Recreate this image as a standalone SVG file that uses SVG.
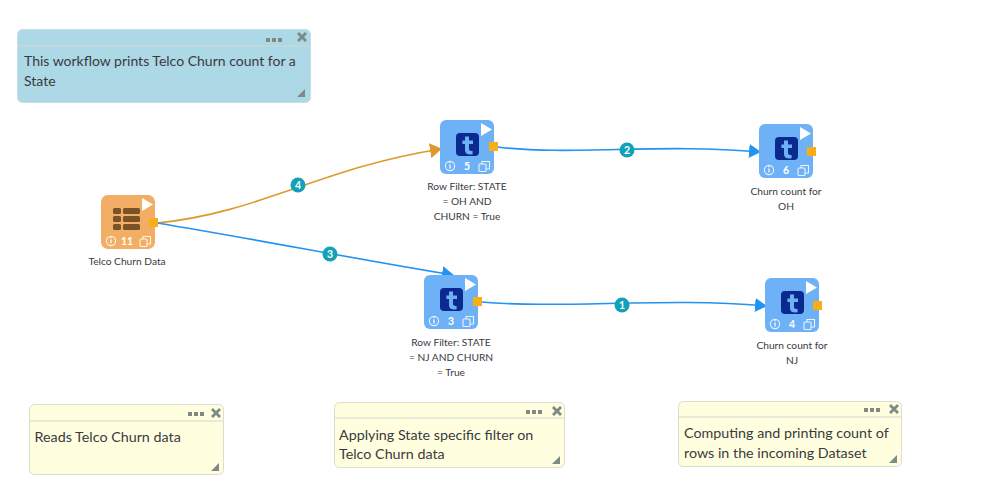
<svg xmlns="http://www.w3.org/2000/svg" width="1000" height="500" viewBox="0 0 1000 500">
<style>
text{font-family:"Lato","Liberation Sans",sans-serif;fill:#3a3a40}
.lbl{font-size:10.2px;text-anchor:middle}
.note{font-size:14.3px}
.top{font-size:14px}
.num{font-size:10.5px;font-weight:700;fill:#fff;text-anchor:middle}
.bnum{font-size:10.5px;font-weight:700;fill:#fff;text-anchor:middle}
.blue{fill:none;stroke:#2193f3;stroke-width:1.6}
.org{fill:none;stroke:#dd9a2a;stroke-width:1.6}
.badge{fill:#12a2b8}
.ic{fill:none;stroke:#fff;stroke-width:1.1;opacity:.85}
.tool{fill:#6fb1f7}
.src{fill:#f1ae64}
.port{fill:#f8ae17}
.blueNote{fill:#add8e6;stroke:#c3dfe8}
.yel{fill:#ffffe0;stroke:#dcdcd0}
.div{stroke-width:1;stroke:#cfd8d0}
.g{fill:#7f8a86}
</style>
<defs>
<marker id="ab" markerUnits="userSpaceOnUse" markerWidth="12" markerHeight="14" refX="11" refY="7" orient="auto"><path d="M0 0L12 7L0 14Z" fill="#2193f3"/></marker>
<marker id="ao" markerUnits="userSpaceOnUse" markerWidth="12" markerHeight="15" refX="11" refY="7.500" orient="auto"><path d="M0 0L12 7.500L0 15Z" fill="#dd9a2a"/></marker>
<g id="chrome">
<path d="M41 3L41 16L52 9.500Z" fill="#fff"/>
<circle cx="10" cy="46" r="4.6" class="ic"/><path d="M10 44.500v4" stroke="#fff" stroke-width="1.2"/><circle cx="10" cy="42.800" r=".7" fill="#fff"/>
<rect x="39" y="44" width="7" height="7.500" rx="1" class="ic"/><path d="M42 44v-2.500h7.500v7.500h-3.500" class="ic"/>
</g>
<g id="tlogo">
<rect x="16" y="13" width="23" height="23" rx="4" fill="#0a2a8f"/>
<path d="M25 16.500h4v4h4v3.600h-4v5.200q0 2 3.600 1.600v3.400q-7.600 1-7.600-4.400v-5.800h-2.600v-3.600h2.600Z" fill="#6fb1f7"/>
</g>
<g id="dots"><rect x="0" y="0" width="4" height="4"/><rect x="6" y="0" width="4" height="4"/><rect x="12" y="0" width="4" height="4"/></g>
<path id="x" d="M0 2L2 0L5 3L8 0L10 2L7 5L10 8L8 10L5 7L2 10L0 8L3 5Z"/>
<path id="grip" d="M8 0V8H0Z"/>
</defs>

<g id="connectors">
<path class="org" marker-end="url(#ao)" d="M157 223C260 213 320 168 441 149"/>
<path class="blue" marker-end="url(#ab)" d="M157 223C260 240 350 258 453 275"/>
<path class="blue" marker-end="url(#ab)" d="M497 147C570 156 660 143 760 152"/>
<path class="blue" marker-end="url(#ab)" d="M481 302C560 309 670 297 766 306"/>
<circle class="badge" cx="298" cy="185" r="7.500"/><text class="num" x="298" y="189">4</text>
<circle class="badge" cx="330" cy="254" r="7.500"/><text class="num" x="330" y="258">3</text>
<circle class="badge" cx="627" cy="150" r="7.500"/><text class="num" x="627" y="154">2</text>
<circle class="badge" cx="622" cy="305" r="7.500"/><text class="num" x="622" y="309">1</text>
</g>

<g id="node-11" transform="translate(101,195)">
<rect class="src" width="54" height="54" rx="7"/>
<use href="#chrome"/>
<g fill="#7b5127"><rect x="12" y="13" width="8" height="6" rx="1.500"/><rect x="22" y="13" width="17" height="6" rx="1.500"/><rect x="12" y="21" width="8" height="6" rx="1.500"/><rect x="22" y="21" width="17" height="6" rx="1.500"/><rect x="12" y="29" width="8" height="6" rx="1.500"/><rect x="22" y="29" width="17" height="6" rx="1.500"/></g>
<text class="bnum" x="26" y="50">11</text>
<rect class="port" x="48" y="23" width="9" height="9"/>
<text class="lbl" x="26" y="70">Telco Churn Data</text>
</g>

<g id="node-5" transform="translate(440,120)">
<rect class="tool" width="54" height="54" rx="6"/>
<use href="#chrome"/><use href="#tlogo"/>
<text class="bnum" x="27" y="50">5</text>
<rect class="port" x="49" y="22" width="9" height="9"/>
<text class="lbl" x="27" y="70">Row Filter: STATE</text><text class="lbl" x="27" y="85">= OH AND</text><text class="lbl" x="27" y="100">CHURN = True</text>
</g>

<g id="node-6" transform="translate(759,124)">
<rect class="tool" width="54" height="54" rx="6"/>
<use href="#chrome"/><use href="#tlogo"/>
<text class="bnum" x="27" y="50">6</text>
<rect class="port" x="48" y="23" width="9" height="9"/>
<text class="lbl" x="27" y="71">Churn count for</text><text class="lbl" x="27" y="86">OH</text>
</g>

<g id="node-3" transform="translate(424,275)">
<rect class="tool" width="54" height="54" rx="6"/>
<use href="#chrome"/><use href="#tlogo"/>
<text class="bnum" x="27" y="50">3</text>
<rect class="port" x="49" y="22" width="9" height="9"/>
<text class="lbl" x="27" y="71">Row Filter: STATE</text><text class="lbl" x="27" y="86">= NJ AND CHURN</text><text class="lbl" x="27" y="101">= True</text>
</g>

<g id="node-4" transform="translate(765,278)">
<rect class="tool" width="54" height="54" rx="6"/>
<use href="#chrome"/><use href="#tlogo"/>
<text class="bnum" x="27" y="50">4</text>
<rect class="port" x="48" y="23" width="9" height="9"/>
<text class="lbl" x="27" y="71">Churn count for</text><text class="lbl" x="27" y="86">NJ</text>
</g>

<g id="note-top">
<rect class="blueNote" x="17.500" y="29.500" width="293" height="73" rx="5"/>
<path class="div" d="M18 46H310"/>
<use href="#dots" class="g" x="266" y="38"/><use href="#x" class="g" x="297" y="32"/><use href="#grip" class="g" x="297" y="89"/>
<text class="top" x="24" y="66">This workflow prints Telco Churn count for a</text><text class="top" x="24" y="86">State</text>
</g>

<g id="note-read">
<rect class="yel" x="29.500" y="404.500" width="194" height="70" rx="5"/>
<path class="div" d="M30 421H223"/>
<use href="#dots" class="g" x="188" y="412"/><use href="#x" class="g" x="211" y="408"/><use href="#grip" class="g" x="211" y="463"/>
<text class="note" x="34.500" y="442">Reads Telco Churn data</text>
</g>

<g id="note-filter">
<rect class="yel" x="334.500" y="402.500" width="230" height="65" rx="5"/>
<path class="div" d="M335 418H564"/>
<use href="#dots" class="g" x="526" y="410"/><use href="#x" class="g" x="552" y="406"/><use href="#grip" class="g" x="552" y="456"/>
<text class="note" x="339" y="440">Applying State specific filter on</text><text class="note" x="339" y="459">Telco Churn data</text>
</g>

<g id="note-count">
<rect class="yel" x="678.500" y="401.500" width="223" height="65" rx="5"/>
<path class="div" d="M679 417H901"/>
<use href="#dots" class="g" x="864" y="408"/><use href="#x" class="g" x="889" y="404"/><use href="#grip" class="g" x="889" y="455"/>
<text class="note" x="684" y="438">Computing and printing count of</text><text class="note" x="684" y="458">rows in the incoming Dataset</text>
</g>
</svg>
